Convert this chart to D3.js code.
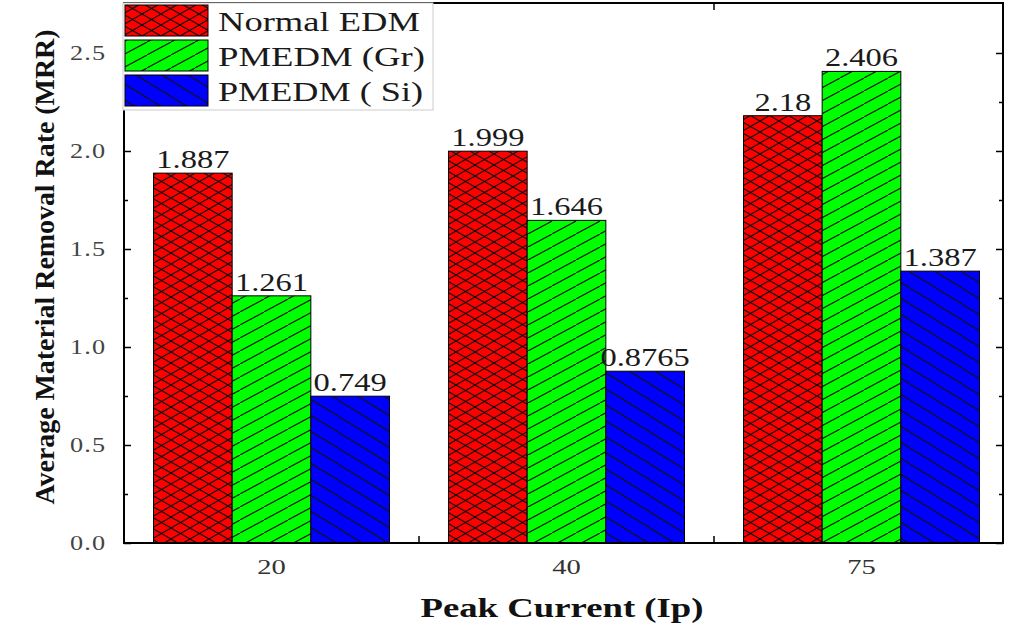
<!DOCTYPE html>
<html>
<head>
<meta charset="utf-8">
<script src="https://cdn.jsdelivr.net/npm/d3@7"></script>
<style>
  body { margin: 0; background: #fff; }
  svg { display: block; font-family: 'Liberation Serif', 'Times New Roman', serif; }
</style>
</head>
<body>
<div id="chart"></div>
<script>
const categories = ['20', '40', '75'];
const seriesNames = ['Normal EDM', 'PMEDM (Gr)', 'PMEDM ( Si)'];
const normalEdm = [1.887, 1.999, 2.18];
const pmedmGr = [1.261, 1.646, 2.406];
const pmedmSi = [0.749, 0.8765, 1.387];
const yTicks = [0, 0.5, 1.0, 1.5, 2.0, 2.5];
const yMinorTicks = [0.25, 0.75, 1.25, 1.75, 2.25];

const width = 1013;
const height = 626;
const plotLeft = 124;
const plotRight = 1003;
const plotTop = 3;
const plotBottom = 543;
const stretch = 1.25; // the source image is stretched sideways

const fills = ['url(#hatchRed)', 'url(#hatchGreen)', 'url(#hatchBlue)'];
const allSeries = [normalEdm, pmedmGr, pmedmSi];

const svg = d3.select('#chart')
  .append('svg')
  .attr('width', width)
  .attr('height', height);

// hatch patterns
const defs = svg.append('defs');
const makePattern = (id, w, h, color, path) => {
  const p = defs.append('pattern')
    .attr('id', id)
    .attr('patternUnits', 'userSpaceOnUse')
    .attr('width', w)
    .attr('height', h);
  p.append('rect').attr('width', w).attr('height', h).attr('fill', color);
  p.append('path')
    .attr('d', path)
    .attr('stroke', '#111')
    .attr('stroke-width', 1.1)
    .attr('fill', 'none');
};
makePattern('hatchRed', 19, 11, '#ff0000', 'M0,11L19,0M0,0L19,11');
makePattern('hatchGreen', 24, 13, '#00ff00', 'M0,13L24,0');
makePattern('hatchBlue', 26, 16, '#0000ff', 'M0,0L26,16');

const x0 = d3.scaleBand()
  .domain(categories)
  .range([plotLeft, plotLeft + 885]);

const groupPad = x0.bandwidth() * 0.1;
const x1 = d3.scaleBand()
  .domain(seriesNames)
  .range([groupPad, x0.bandwidth() - groupPad]);

const yScale = d3.scaleLinear()
  .domain([0, 2.755])
  .range([plotBottom, plotTop]);

// bars
const rows = [];
categories.forEach((c, i) => {
  seriesNames.forEach((s, j) => {
    rows.push({ cat: c, name: s, idx: j, value: allSeries[j][i] });
  });
});

svg.append('g')
  .selectAll('rect')
  .data(rows)
  .enter()
  .append('rect')
  .attr('x', (d) => x0(d.cat) + x1(d.name))
  .attr('y', (d) => yScale(d.value))
  .attr('width', x1.bandwidth())
  .attr('height', (d) => yScale(0) - yScale(d.value))
  .attr('fill', (d) => fills[d.idx])
  .attr('stroke', '#000')
  .attr('stroke-width', 1);

// value labels
svg.append('g')
  .selectAll('text')
  .data(rows)
  .enter()
  .append('text')
  .attr('transform', (d) => `translate(${x0(d.cat) + x1(d.name) + x1.bandwidth() / 2} ${yScale(d.value) - 5})scale(${stretch} 1)`)
  .attr('text-anchor', 'middle')
  .style('font-size', '26px')
  .attr('fill', '#1a1a1a')
  .text((d) => String(d.value));

// axes
const yAxis = d3.axisLeft(yScale)
  .tickValues(yTicks)
  .tickSize(-7)
  .tickPadding(14)
  .tickFormat(d3.format('.1f'));
const yMinor = d3.axisLeft(yScale)
  .tickValues(yMinorTicks)
  .tickSize(-4)
  .tickFormat('');
const yRight = d3.axisRight(yScale)
  .tickValues(yTicks)
  .tickSize(-7)
  .tickFormat('');
const yRightMinor = d3.axisRight(yScale)
  .tickValues(yMinorTicks)
  .tickSize(-4)
  .tickFormat('');
const xAxis = d3.axisBottom(x0)
  .tickSize(0)
  .tickPadding(15);

const gy = svg.append('g').attr('transform', `translate(${plotLeft} 0)`).call(yAxis);
svg.append('g').attr('transform', `translate(${plotLeft} 0)`).call(yMinor);
svg.append('g').attr('transform', `translate(${plotRight} 0)`).call(yRight);
svg.append('g').attr('transform', `translate(${plotRight} 0)`).call(yRightMinor);
const gx = svg.append('g').attr('transform', `translate(0 ${plotBottom})`).call(xAxis);

gy.selectAll('text')
  .style('font-size', '21px')
  .style('font-family', "'Liberation Serif', serif")
  .style('letter-spacing', '1px')
  .attr('transform', `scale(${stretch} 1)`)
  .attr('fill', '#444');
gx.selectAll('text')
  .style('font-size', '22px')
  .style('font-family', "'Liberation Serif', serif")
  .attr('transform', 'scale(1.3 1)')
  .attr('fill', '#333');

svg.selectAll('.domain').remove();
svg.selectAll('.tick line').attr('stroke', '#000').attr('stroke-width', 1.5);

// category boundary ticks (bottom and top)
const bounds = categories.slice(1).map((c) => x0(c));
svg.append('g')
  .selectAll('line')
  .data(bounds)
  .enter()
  .append('line')
  .attr('x1', (d) => d)
  .attr('x2', (d) => d)
  .attr('y1', plotBottom)
  .attr('y2', plotBottom - 7)
  .attr('stroke', '#000')
  .attr('stroke-width', 1.5);
svg.append('g')
  .selectAll('line')
  .data(bounds)
  .enter()
  .append('line')
  .attr('x1', (d) => d)
  .attr('x2', (d) => d)
  .attr('y1', plotTop)
  .attr('y2', plotTop + 7)
  .attr('stroke', '#000')
  .attr('stroke-width', 1.5);

// frame
svg.append('rect')
  .attr('x', plotLeft)
  .attr('y', plotTop)
  .attr('width', plotRight - plotLeft)
  .attr('height', plotBottom - plotTop)
  .attr('fill', 'none')
  .attr('stroke', '#000')
  .attr('stroke-width', 2);

// x axis title
svg.append('text')
  .attr('x', 562)
  .attr('y', 617)
  .attr('text-anchor', 'middle')
  .style('font-size', '27px')
  .style('font-weight', 'bold')
  .attr('textLength', 283)
  .attr('lengthAdjust', 'spacingAndGlyphs')
  .attr('fill', '#111')
  .text('Peak Current (Ip)');

// y axis title
svg.append('text')
  .attr('transform', `translate(${54} ${267})rotate(-90)`)
  .attr('text-anchor', 'middle')
  .style('font-size', '28px')
  .style('font-weight', 'bold')
  .attr('textLength', 475)
  .attr('lengthAdjust', 'spacingAndGlyphs')
  .attr('fill', '#111')
  .text('Average Material Removal Rate (MRR)');

// legend
const legendWidths = [202, 207, 205];
const legend = svg.append('g')
  .attr('transform', `translate(${123} ${3})`);

legend.append('rect')
  .attr('width', 310)
  .attr('height', 107)
  .attr('fill', '#fff')
  .attr('stroke', '#ccc')
  .attr('stroke-width', 1);

seriesNames.forEach((s, j) => {
  legend.append('rect')
    .attr('x', 2)
    .attr('y', 2 + j * 35)
    .attr('width', 83)
    .attr('height', 31)
    .attr('fill', fills[j])
    .attr('stroke', '#000')
    .attr('stroke-width', 1);
  legend.append('text')
    .attr('x', 95)
    .attr('y', 28 + j * 35)
    .style('font-size', '27px')
    .attr('textLength', legendWidths[j])
    .attr('lengthAdjust', 'spacingAndGlyphs')
    .attr('fill', '#1a1a1a')
    .text(s);
});
</script>
</body>
</html>
